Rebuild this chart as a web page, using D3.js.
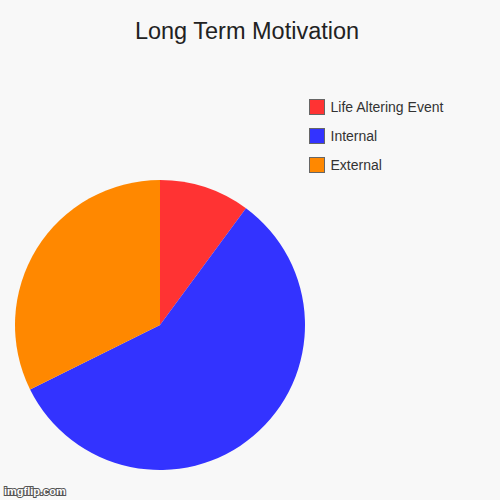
<!DOCTYPE html>
<html>
<head>
<meta charset="utf-8">
<script src="https://cdn.jsdelivr.net/npm/d3@7"></script>
<style>
  body { margin: 0; background: #f8f8f8; }
  svg { display: block; font-family: "Liberation Sans", Arial, sans-serif; }
</style>
</head>
<body>
<div class="chart"></div>
<script>
const title = "Long Term Motivation"
const categories = ["Life Altering Event", "Internal", "External"]
const values = [10, 57, 32]
const colors = ["#ff3333", "#3333ff", "#ff8800"]

function drawPie() {

    const width = 500
    const height = 500

    const svg = d3.select(".chart")
        .append("svg")
        .attr("width", width)
        .attr("height", height)
        .attr("viewBox", [0, 0, width, height])

    svg.append("rect")
        .attr("width", width)
        .attr("height", height)
        .attr("fill", "#f8f8f8")

    svg.append("text")
        .attr("x", 247)
        .attr("y", 38.5)
        .attr("text-anchor", "middle")
        .attr("font-size", 23.5)
        .attr("fill", "#222")
        .text(title)

    const data = categories.map((c, i) => ({ name: c, value: values[i], color: colors[i] }))

    const pie = d3.pie()
        .value(d => d.value)
        .sort(null)

    const arc = d3.arc()
        .innerRadius(0)
        .outerRadius(145)

    svg.append("g")
        .attr("transform", "translate(160,325)")
        .selectAll("path")
        .data(pie(data))
        .join("path")
        .attr("d", arc)
        .attr("fill", d => d.data.color)

    // legend
    const y = d3.scalePoint()
        .domain(categories)
        .range([107, 165])

    const legend = svg.append("g")
        .selectAll("g")
        .data(data)
        .join("g")
        .attr("transform", d => `translate(309,${y(d.name)})`)

    legend.append("rect")
        .attr("x", 0.5)
        .attr("y", -7.5)
        .attr("width", 15)
        .attr("height", 15)
        .attr("fill", d => d.color)
        .attr("stroke", "#666")
        .attr("stroke-width", 1)

    legend.append("text")
        .attr("x", 21.5)
        .attr("y", 5)
        .attr("font-size", 14)
        .attr("fill", "#333")
        .text(d => d.name)

    svg.append("text")
        .attr("x", 4)
        .attr("y", 495)
        .attr("font-size", 11)
        .attr("font-weight", "bold")
        .attr("fill", "#fff")
        .attr("stroke", "#555")
        .attr("stroke-width", 2)
        .attr("paint-order", "stroke")
        .text("imgflip.com")
}

drawPie()
</script>
</body>
</html>
